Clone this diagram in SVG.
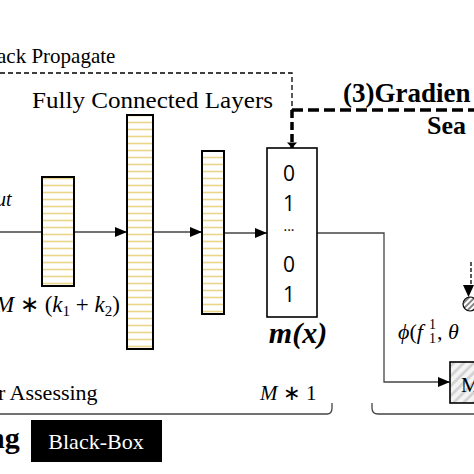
<svg xmlns="http://www.w3.org/2000/svg" width="474" height="474" viewBox="0 0 474 474">
<style>
.serif{font-family:"Liberation Serif","Times New Roman",serif;fill:#000}
.sans{font-family:"Open Sans","Liberation Sans",Arial,sans-serif;fill:#000}
.conn{fill:none;stroke:#444;stroke-width:1.3}
.box{stroke:#000;stroke-width:2}
</style>
<defs>
<pattern id="yel" patternUnits="userSpaceOnUse" width="10" height="7">
<rect width="10" height="7" fill="#fff"/>
<line x1="0" y1="3.5" x2="10" y2="3.5" stroke="#ead68a" stroke-width="1.6"/>
</pattern>
<pattern id="grayhatch" patternUnits="userSpaceOnUse" width="7" height="7" patternTransform="rotate(-45)">
<rect width="7" height="7" fill="#f4f4f4"/>
<line x1="0" y1="3.5" x2="7" y2="3.5" stroke="#cfcfcf" stroke-width="2.5"/>
</pattern>
<pattern id="darkhatch" patternUnits="userSpaceOnUse" width="4" height="4" patternTransform="rotate(-45)">
<rect width="4" height="4" fill="#fff"/>
<line x1="0" y1="2" x2="4" y2="2" stroke="#777" stroke-width="1.8"/>
</pattern>
<marker id="arr" viewBox="0 0 12 10" refX="12" refY="5" markerWidth="12" markerHeight="10" markerUnits="userSpaceOnUse" orient="auto">
<path d="M0,0 L12,5 L0,10 Z" fill="#000"/>
</marker>
<marker id="arrBig" viewBox="0 0 10 18" refX="10" refY="9" markerWidth="18" markerHeight="10" markerUnits="userSpaceOnUse" orient="auto">
<path d="M0,0 L10,9 L0,18 Z" fill="#000"/>
</marker>
</defs>

<g id="connectors">
<line class="conn" x1="0" y1="232" x2="42" y2="232"/>
<line class="conn" x1="74" y1="232" x2="127" y2="232" marker-end="url(#arr)"/>
<line class="conn" x1="153" y1="232" x2="202" y2="232" marker-end="url(#arr)"/>
<line class="conn" x1="224" y1="233" x2="267" y2="233" marker-end="url(#arr)"/>
<polyline class="conn" points="317,233 384,233 384,382 450,382" marker-end="url(#arr)"/>
<polyline fill="none" stroke="#000" stroke-width="1.3" stroke-dasharray="5,3" points="0,73 292,73 292,110"/>
<line x1="292" y1="110" x2="474" y2="110" stroke="#000" stroke-width="3.5" stroke-dasharray="11,5"/>
<line x1="292" y1="110" x2="292" y2="148" stroke="#000" stroke-width="3.5" stroke-dasharray="8,4" marker-end="url(#arrBig)"/>
<line x1="471" y1="262" x2="471" y2="285" stroke="#000" stroke-width="1.3" stroke-dasharray="4,2"/>
<path d="M463,285 L474,285 L468.5,297 Z" fill="#000"/>
<path class="conn" d="M0,414 L327,414 Q332,414 332,408 L332,403"/>
<path class="conn" d="M372,403 L372,408 Q372,414 378,414 L474,414"/>
</g>

<g id="label-backprop"><text class="serif" x="-3" y="63" font-size="21">ack Propagate</text></g>
<g id="label-fc"><text class="serif" x="32" y="108" font-size="24" textLength="241" lengthAdjust="spacingAndGlyphs">Fully Connected Layers</text></g>
<g id="label-gradient">
<text class="serif" x="343" y="102" font-size="27" font-weight="bold">(3)Gradien</text>
<text class="serif" x="427" y="134" font-size="26" font-weight="bold">Sea</text>
</g>
<g id="label-input"><text class="serif" x="-4" y="206" font-size="20" font-style="italic">ut</text></g>

<g id="layer1"><rect class="box" x="42" y="177" width="32" height="109" fill="url(#yel)"/></g>
<g id="layer2"><rect class="box" x="127" y="115" width="26" height="234" fill="url(#yel)"/></g>
<g id="layer3"><rect class="box" x="202" y="151" width="22" height="163" fill="url(#yel)"/></g>

<g id="label-mk"><text class="serif" x="-5" y="312" font-size="23" font-style="italic">M <tspan font-style="normal">∗ (</tspan>k<tspan font-style="normal" font-size="15" dy="4">1</tspan><tspan font-style="normal" dy="-4"> + </tspan>k<tspan font-style="normal" font-size="15" dy="4">2</tspan><tspan font-style="normal" dy="-4">)</tspan></text></g>

<g id="mask">
<rect x="267" y="148" width="50" height="169" fill="#fff" stroke="#000" stroke-width="1.6"/>
<text class="sans" x="289" y="181" font-size="21" text-anchor="middle">0</text>
<text class="sans" x="289" y="211" font-size="21" text-anchor="middle">1</text>
<text class="sans" x="289" y="235" font-size="14" text-anchor="middle">···</text>
<text class="sans" x="289" y="272" font-size="21" text-anchor="middle">0</text>
<text class="sans" x="289" y="302" font-size="21" text-anchor="middle">1</text>
<text class="serif" x="298" y="343" font-size="30" font-weight="bold" font-style="italic" text-anchor="middle">m(x)</text>
</g>

<g id="label-assess">
<text class="serif" x="-2" y="400" font-size="22">r Assessing</text>
<text class="serif" x="260" y="400" font-size="21"><tspan font-style="italic">M</tspan> ∗ 1</text>
</g>

<g id="phi">
<circle cx="470" cy="304" r="7" fill="url(#darkhatch)" stroke="#000" stroke-width="1.2"/>
<text class="serif" x="398" y="339" font-size="22" font-style="italic">ϕ<tspan font-style="normal">(</tspan>f</text>
<text class="serif" x="429" y="343" font-size="14">1</text>
<text class="serif" x="429" y="329" font-size="14">1</text>
<text class="serif" x="437" y="339" font-size="22">, <tspan font-style="italic">θ</tspan></text>
</g>

<g id="mbox">
<rect x="450" y="362" width="40" height="41" fill="url(#grayhatch)" stroke="#000" stroke-width="1.6"/>
<text class="serif" x="461" y="392" font-size="21">M</text>
</g>

<g id="bottom">
<text class="serif" x="-12" y="448" font-size="30" font-weight="bold">ng</text>
<rect x="31" y="420" width="131" height="42" fill="#000"/>
<text class="serif" x="96" y="449" font-size="22" text-anchor="middle" style="fill:#fff">Black-Box</text>
</g>
</svg>
